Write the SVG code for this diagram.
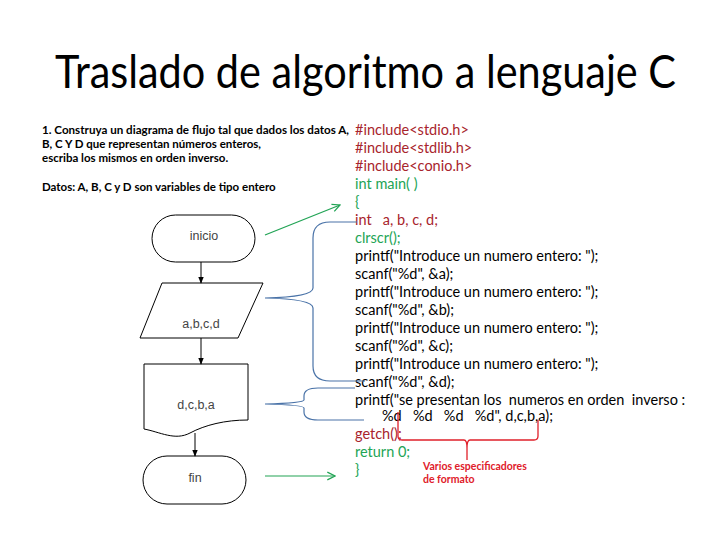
<svg xmlns="http://www.w3.org/2000/svg" width="728" height="546" viewBox="0 0 728 546">
<style>
.title{font-family:Lato,"Open Sans",sans-serif;font-size:47px;fill:#000}
.q{font-family:Lato,"Open Sans",sans-serif;font-size:11.5px;font-weight:bold;fill:#000}
.code{font-family:Lato,"Open Sans",sans-serif;font-size:14.5px}
.k{fill:#000}
.r{fill:#A8242C}
.g{fill:#22A455}
.shape{fill:#fff;stroke:#000;stroke-width:1}
.lbl{font-family:"Liberation Sans Narrow","Liberation Sans",sans-serif;font-size:12.5px;fill:#444;text-anchor:middle}
.flow{stroke:#000;stroke-width:1;fill:none}
.green{stroke:#22A455;stroke-width:1.2;fill:none}
.blue{stroke:#4A73A8;stroke-width:1.2;fill:none}
.redb{stroke:#E0202A;stroke-width:1.3;fill:none}
.note{font-family:Lato,"Open Sans",sans-serif;font-size:10.5px;font-weight:bold;fill:#E0202A}
</style>
<defs>
<marker id="ah" viewBox="0 0 10 10" refX="9" refY="5" markerWidth="7" markerHeight="7" orient="auto"><path d="M0,1 L10,5 L0,9 Z" fill="#000"/></marker>
<marker id="ga" viewBox="0 0 10 10" refX="9" refY="5" markerWidth="8" markerHeight="8" orient="auto"><path d="M1,1 L9,5 L1,9" fill="none" stroke="#22A455" stroke-width="1.3"/></marker>
</defs>
<rect width="728" height="546" fill="#fff"/>
<text class="title" x="55" y="88" textLength="621" lengthAdjust="spacingAndGlyphs">Traslado de algoritmo a lenguaje C</text>

<g id="enunciado">
<text class="q" x="42" y="134" textLength="307" lengthAdjust="spacingAndGlyphs">1. Construya un diagrama de flujo tal que dados los datos A,</text>
<text class="q" x="42" y="148">B, C Y D que representan números enteros,</text>
<text class="q" x="42" y="162">escriba los mismos en orden inverso.</text>
<text class="q" x="42" y="191">Datos: A, B, C y D son variables de tipo entero</text>
</g>

<g id="codigo" class="code">
<text class="r" x="355" y="135">#include&lt;stdio.h&gt;</text>
<text class="r" x="355" y="153">#include&lt;stdlib.h&gt;</text>
<text class="r" x="355" y="171">#include&lt;conio.h&gt;</text>
<text class="g" x="355" y="189">int main( )</text>
<text class="g" x="355" y="207">{</text>
<text class="r" x="355" y="225">int &#160;&#160;a, b, c, d;</text>
<text class="g" x="355" y="243">clrscr();</text>
<text class="k" x="355" y="261">printf("Introduce un numero entero: ");</text>
<text class="k" x="355" y="279">scanf("%d", &amp;a);</text>
<text class="k" x="355" y="297">printf("Introduce un numero entero: ");</text>
<text class="k" x="355" y="315">scanf("%d", &amp;b);</text>
<text class="k" x="355" y="333">printf("Introduce un numero entero: ");</text>
<text class="k" x="355" y="351">scanf("%d", &amp;c);</text>
<text class="k" x="355" y="369">printf("Introduce un numero entero: ");</text>
<text class="k" x="355" y="387">scanf("%d", &amp;d);</text>
<text class="k" x="355" y="405">printf("se presentan los &#160;numeros en orden &#160;inverso :</text>
<text class="k" x="382" y="421">%d &#160;&#160;%d &#160;&#160;%d &#160;&#160;%d", d,c,b,a);</text>
<text class="r" x="355" y="439">getch();</text>
<text class="g" x="355" y="457">return 0;</text>
<text class="g" x="355" y="475">}</text>
</g>

<g id="inicio">
<rect class="shape" x="152" y="215" width="103" height="47" rx="23.5"/>
<text class="lbl" x="204" y="240">inicio</text>
</g>
<g id="lectura">
<path class="shape" d="M162,283 L263,283 L238,338 L140,338 Z"/>
<text class="lbl" x="201" y="328">a,b,c,d</text>
</g>
<g id="salida">
<path class="shape" d="M144,364 L248,364 L248,420 C225,420 205,425 190,433 C175,441 160,432 144,429 Z"/>
<text class="lbl" x="196" y="409">d,c,b,a</text>
</g>
<g id="fin">
<rect class="shape" x="143" y="456" width="103" height="48" rx="24"/>
<text class="lbl" x="195" y="482">fin</text>
</g>

<g id="conectores">
<line class="flow" x1="201" y1="262" x2="201" y2="283" marker-end="url(#ah)"/>
<line class="flow" x1="201" y1="338" x2="201" y2="364" marker-end="url(#ah)"/>
<line class="flow" x1="195" y1="433" x2="195" y2="456" marker-end="url(#ah)"/>
<line class="green" x1="265" y1="235" x2="340" y2="205" marker-end="url(#ga)"/>
<line class="green" x1="265" y1="476" x2="335" y2="476" marker-end="url(#ga)"/>
<path class="blue" d="M357,222 H330 Q313,222 313,238 V288 Q313,297 265,298 Q313,299 313,308 V366 Q313,381 330,381 H365"/>
<path class="blue" d="M355,388 H318 Q304,388 304,396 V400 Q304,403 265,404 Q304,405 304,408 V412 Q304,420 318,420 H364"/>
<path class="redb" d="M398,412 V436 Q398,440 402,440 H464 Q467,440 467,448 V460 V448 Q467,440 470,440 H534 Q538,440 538,436 V420"/>
<text class="note" x="423" y="470">Varios especificadores</text>
<text class="note" x="423" y="483">de formato</text>
</g>
</svg>
